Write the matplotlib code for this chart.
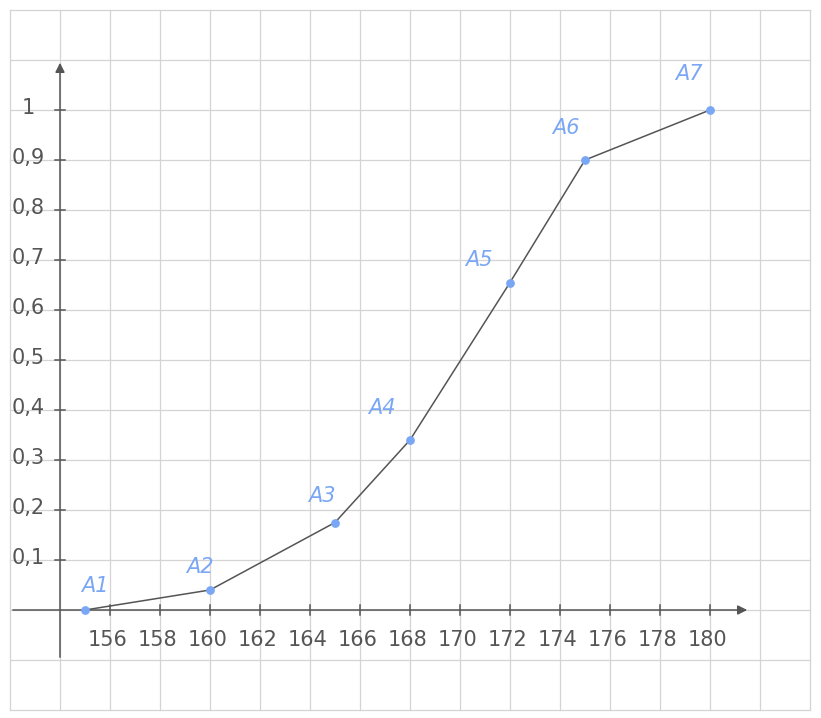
import matplotlib
matplotlib.use("Agg")
import matplotlib.pyplot as plt
import numpy as np

x = [155, 160, 165, 168, 172, 175, 180]
y = [0.0, 0.04, 0.175, 0.34, 0.655, 0.90, 1.0]
names = ["A1", "A2", "A3", "A4", "A5", "A6", "A7"]
offsets = [(10, 24), (-10, 23), (-13, 27), (-28, 32), (-31, 23), (-19, 32), (-21, 36)]
xticks = list(range(156, 181, 2))
yticks = [0.1, 0.2, 0.3, 0.4, 0.5, 0.6, 0.7, 0.8, 0.9, 1.0]
ylabels = ["0,1", "0,2", "0,3", "0,4", "0,5", "0,6", "0,7", "0,8", "0,9", "1"]

fig = plt.figure(figsize=(8.21, 7.18), dpi=100)
ax = fig.add_axes([0, 0, 1, 1])
x0 = 154.0
ax.set_xlim(151.6, 184.44)
ax.set_ylim(-0.216, 1.22)
ax.axis("off")

gc = "#d4d4d4"
for gx in np.arange(152, 185, 2):
    ax.plot([gx, gx], [-0.2, 1.2], color=gc, lw=0.9, zorder=0)
for gy in np.arange(-0.2, 1.21, 0.1):
    ax.plot([152, 184], [gy, gy], color=gc, lw=0.9, zorder=0)

ac = "#555555"
ax.annotate("", xy=(181.6, 0), xytext=(152, 0),
            arrowprops=dict(arrowstyle="-|>", color=ac, lw=1.1, mutation_scale=14))
ax.annotate("", xy=(x0, 1.1), xytext=(x0, -0.1),
            arrowprops=dict(arrowstyle="-|>", color=ac, lw=1.1, mutation_scale=14))
for t in xticks:
    ax.plot([t, t], [-0.01, 0.01], color=ac, lw=1.1)
    ax.text(t - 0.1, -0.06, str(t), ha="center", va="center", fontsize=15, color="#555555")
for t, lab in zip(yticks, ylabels):
    ax.plot([x0 - 0.2, x0 + 0.2], [t, t], color=ac, lw=1.1)
    ax.text(x0 - 0.6 if lab != "1" else x0 - 1.0, t + 0.005, lab, ha="right", va="center",
            fontsize=15, color="#555555")

ax.plot(x, y, color="#555555", lw=1.1, zorder=3)
ax.scatter(x, y, s=28, color="#7aa7f5", zorder=4)
for xi, yi, n, (dx, dy) in zip(x, y, names, offsets):
    ax.annotate(n, (xi, yi), xytext=(dx, dy), textcoords="offset pixels",
                ha="center", va="center", fontsize=15, style="italic", color="#7aa7f5")

fig.savefig("out.png", dpi=100)
